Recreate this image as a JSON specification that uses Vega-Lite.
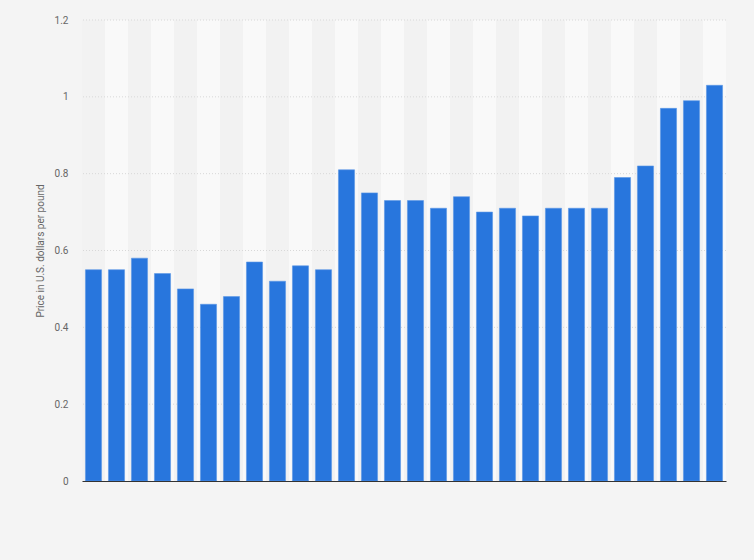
{
  "$schema": "https://vega.github.io/schema/vega-lite/v6.json",
  "description": "Price in U.S. dollars per pound, yearly bars",
  "autosize": {"type": "none"},
  "width": 644,
  "height": 461,
  "padding": {"left": 82, "top": 20, "right": 28, "bottom": 79},
  "background": "#f4f4f4",
  "data": {
    "values": [
      {"year": 1990, "price": 0.55},
      {"year": 1991, "price": 0.55},
      {"year": 1992, "price": 0.58},
      {"year": 1993, "price": 0.54},
      {"year": 1994, "price": 0.50},
      {"year": 1995, "price": 0.46},
      {"year": 1996, "price": 0.48},
      {"year": 1997, "price": 0.57},
      {"year": 1998, "price": 0.52},
      {"year": 1999, "price": 0.56},
      {"year": 2000, "price": 0.55},
      {"year": 2001, "price": 0.81},
      {"year": 2002, "price": 0.75},
      {"year": 2003, "price": 0.73},
      {"year": 2004, "price": 0.73},
      {"year": 2005, "price": 0.71},
      {"year": 2006, "price": 0.74},
      {"year": 2007, "price": 0.70},
      {"year": 2008, "price": 0.71},
      {"year": 2009, "price": 0.69},
      {"year": 2010, "price": 0.71},
      {"year": 2011, "price": 0.71},
      {"year": 2012, "price": 0.71},
      {"year": 2013, "price": 0.79},
      {"year": 2014, "price": 0.82},
      {"year": 2015, "price": 0.97},
      {"year": 2016, "price": 0.99},
      {"year": 2017, "price": 1.03}
    ]
  },
  "layer": [
    {
      "mark": {"type": "bar"},
      "encoding": {
        "x": {
          "field": "year",
          "type": "ordinal",
          "scale": {"paddingInner": 0, "paddingOuter": 0},
          "axis": {
            "title": null,
            "labels": false,
            "ticks": false,
            "grid": false,
            "domain": true,
            "domainColor": "#333333",
            "domainWidth": 1,
            "zindex": 1
          }
        },
        "y": {"datum": 1.2, "type": "quantitative"},
        "y2": {"datum": 0},
        "color": {
          "condition": {"test": "datum.year % 2 == 1", "value": "#f9f9f9"},
          "value": "#f2f2f2"
        }
      }
    },
    {
      "data": {
        "values": [
          {"tick": 0.2},
          {"tick": 0.4},
          {"tick": 0.6},
          {"tick": 0.8},
          {"tick": 1},
          {"tick": 1.2}
        ]
      },
      "mark": {"type": "rule", "color": "#d8d8d8", "strokeDash": [1, 2], "strokeWidth": 1},
      "encoding": {
        "y": {"field": "tick", "type": "quantitative"}
      }
    },
    {
      "mark": {"type": "bar", "width": {"band": 0.7}, "color": "#2876dd", "stroke": "#5a97e6", "strokeWidth": 0.6},
      "encoding": {
        "x": {"field": "year", "type": "ordinal"},
        "y": {
          "field": "price",
          "type": "quantitative",
          "scale": {"domain": [0, 1.2], "nice": false},
          "axis": {
            "title": "Price in U.S. dollars per pound",
            "titleFont": "Roboto",
            "titleFontSize": 10,
            "titleFontWeight": "normal",
            "titleColor": "#666666",
            "titlePadding": 9,
            "values": [0, 0.2, 0.4, 0.6, 0.8, 1, 1.2],
            "format": "~g",
            "labelFont": "Roboto",
            "labelFontSize": 10,
            "labelColor": "#666666",
            "labelPadding": 14,
            "ticks": false,
            "domain": false,
            "grid": false
          }
        }
      }
    }
  ],
  "config": {
    "view": {"stroke": null}
  }
}
